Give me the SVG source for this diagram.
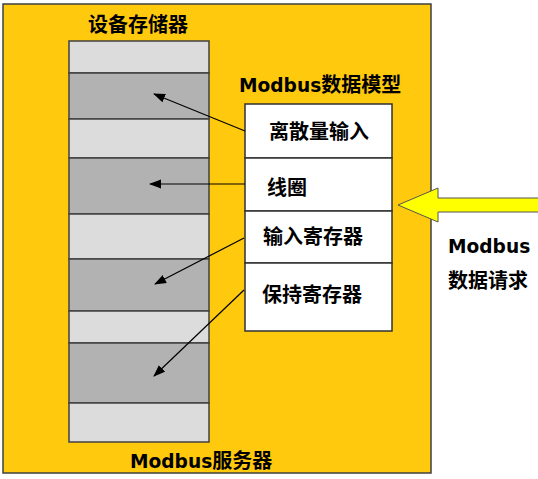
<svg xmlns="http://www.w3.org/2000/svg" width="538" height="479" viewBox="0 0 538 479">
<defs>
<style>
.t{font-family:"DejaVu Sans","Noto Sans CJK SC",sans-serif;font-weight:bold;font-size:20px;fill:#000}
.la{font-size:18.6px}
.lt{fill:#DCDCDC;stroke:#404040;stroke-width:1.5}
.dk{fill:#B2B2B2;stroke:#404040;stroke-width:1.5}
.cell{fill:#FFFFFF;stroke:#303030;stroke-width:1.5}
.conn{stroke:#000;stroke-width:1.2;fill:none;marker-end:url(#ah)}
</style>
<marker id="ah" markerUnits="userSpaceOnUse" markerWidth="12" markerHeight="10" refX="11" refY="4.5" orient="auto">
<path d="M0,0 L12,4.5 L0,9 z" fill="#000"/>
</marker>
</defs>
<g id="server">
<rect x="3" y="4" width="428" height="469" fill="#FFC90E" stroke="#404040" stroke-width="1.5"/>
<text class="t" x="130" y="468"><tspan class="la">Modbus</tspan>服务器</text>
</g>
<g id="memory">
<text class="t" x="88" y="32">设备存储器</text>
<rect class="lt" x="69" y="41" width="140" height="32"/>
<rect class="dk" x="69" y="73" width="140" height="46"/>
<rect class="lt" x="69" y="119" width="140" height="39"/>
<rect class="dk" x="69" y="158" width="140" height="56"/>
<rect class="lt" x="69" y="214" width="140" height="45"/>
<rect class="dk" x="69" y="259" width="140" height="52"/>
<rect class="lt" x="69" y="311" width="140" height="32"/>
<rect class="dk" x="69" y="343" width="140" height="60"/>
<rect class="lt" x="69" y="403" width="140" height="39"/>
</g>
<g id="model">
<text class="t" x="239" y="92"><tspan class="la">Modbus</tspan>数据模型</text>
<rect class="cell" x="245" y="104" width="147" height="54"/>
<rect class="cell" x="245" y="158" width="147" height="53"/>
<rect class="cell" x="245" y="211" width="147" height="52"/>
<rect class="cell" x="245" y="263" width="147" height="68"/>
<text class="t" x="269" y="139">离散量输入</text>
<text class="t" x="267" y="195">线圈</text>
<text class="t" x="263" y="244">输入寄存器</text>
<text class="t" x="262" y="302">保持寄存器</text>
</g>
<g id="request">
<polygon points="398,205 438,188 438,198 540,198 540,212 438,212 438,222" fill="#FFFF00" stroke="#555" stroke-width="1"/>
<text class="t la" x="448" y="253">Modbus</text>
<text class="t" x="448" y="288">数据请求</text>
</g>
<g id="connectors">
<line class="conn" x1="245" y1="131" x2="154" y2="94"/>
<line class="conn" x1="245" y1="184" x2="150" y2="184"/>
<line class="conn" x1="244" y1="238" x2="155" y2="284"/>
<line class="conn" x1="244" y1="290" x2="154" y2="376"/>
</g>
</svg>
